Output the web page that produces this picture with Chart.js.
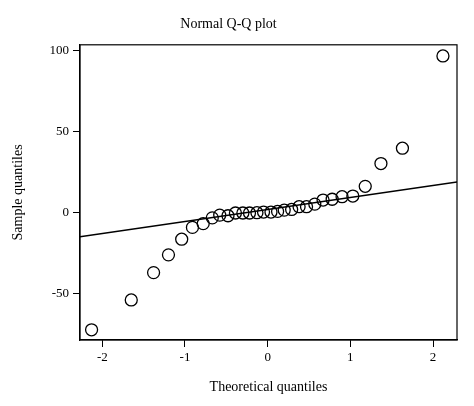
<!DOCTYPE html>
<html lang="en">
<head>
    <meta charset="UTF-8">
    <script src="https://cdn.jsdelivr.net/npm/chart.js@4/dist/chart.umd.min.js"></script>
    <title>Normal Q-Q plot</title>
    <style>
        body { margin: 0; background: #fff; }
        #wrap { width: 474px; height: 406px; }
    </style>
</head>
<body>
    <div id="wrap"><canvas id="qq"></canvas></div>
<script>
    const theoretical = [-2.13, -1.65, -1.38, -1.20, -1.04, -0.91, -0.78, -0.67, -0.58, -0.48,
        -0.39, -0.30, -0.22, -0.13, -0.05, 0.04, 0.12, 0.20, 0.29, 0.38,
        0.47, 0.57, 0.67, 0.78, 0.90, 1.03, 1.18, 1.37, 1.63, 2.12];
    const sample = [-72.7, -54.2, -37.3, -26.3, -16.6, -9.3, -7.0, -3.4, -1.7, -2.1,
        -0.4, -0.4, -0.4, -0.2, 0.2, 0.2, 0.6, 1.4, 1.8, 3.5,
        3.5, 5.1, 7.6, 8.1, 9.7, 10.1, 16.1, 30.2, 39.7, 96.8];
    const lineX = [-2.27, 2.29];
    const lineY = [-15.1, 18.8];
    const xTicks = [-2, -1, 0, 1, 2];
    const yTicks = [-50, 0, 50, 100];

    const serif = 'Liberation Serif';

    const boxPlugin = {
        id: 'box',
        afterDraw(chart) {
            const a = chart.chartArea, c = chart.ctx;
            c.save();
            c.strokeStyle = '#000';
            c.lineWidth = 1.2;
            c.strokeRect(a.left, a.top, a.right - a.left, a.bottom - a.top);
            c.restore();
        }
    };

    const pick = list => axis => { axis.ticks = list.map(v => ({ value: v })); };

    new Chart(document.getElementById('qq'), {
        type: 'scatter',
        data: {
            datasets: [{
                data: theoretical.map((x, i) => ({ x: x, y: sample[i] })),
                pointRadius: 6,
                pointHoverRadius: 6,
                pointBackgroundColor: 'rgba(255,255,255,0)',
                pointBorderColor: '#000',
                pointBorderWidth: 1.3
            }, {
                type: 'line',
                data: lineX.map((x, i) => ({ x: x, y: lineY[i] })),
                borderColor: '#000',
                borderWidth: 1.3,
                pointRadius: 0,
                fill: false
            }]
        },
        options: {
            responsive: true,
            maintainAspectRatio: false,
            animation: false,
            layout: { padding: { left: 0, right: 17, top: 2, bottom: 0 } },
            plugins: {
                legend: { display: false },
                tooltip: { enabled: false },
                title: {
                    display: true,
                    text: 'Normal Q-Q plot',
                    color: '#000',
                    font: { family: serif, size: 14, weight: 'normal' },
                    padding: { top: 14, bottom: 12 }
                }
            },
            scales: {
                x: {
                    type: 'linear',
                    min: -2.27,
                    max: 2.29,
                    afterBuildTicks: pick(xTicks),
                    afterFit: axis => { axis.height = 66; },
                    grid: { drawOnChartArea: false, tickLength: 7, color: '#000' },
                    border: { color: '#000', width: 1.2 },
                    ticks: { color: '#000', font: { family: serif, size: 13 }, padding: 3 },
                    title: {
                        display: true,
                        text: 'Theoretical quantiles',
                        color: '#000',
                        font: { family: serif, size: 14 },
                        padding: { top: 6, bottom: 10 }
                    }
                },
                y: {
                    min: -79,
                    max: 103.7,
                    afterBuildTicks: pick(yTicks),
                    afterFit: axis => { axis.width = 80; },
                    grid: { drawOnChartArea: false, tickLength: 7, color: '#000' },
                    border: { color: '#000', width: 1.2 },
                    ticks: { color: '#000', font: { family: serif, size: 13 }, padding: 4 },
                    title: {
                        display: true,
                        text: 'Sample quantiles',
                        color: '#000',
                        font: { family: serif, size: 14 },
                        padding: { top: 10, bottom: 2 }
                    }
                }
            }
        },
        plugins: [boxPlugin]
    });
</script>
</body>
</html>
